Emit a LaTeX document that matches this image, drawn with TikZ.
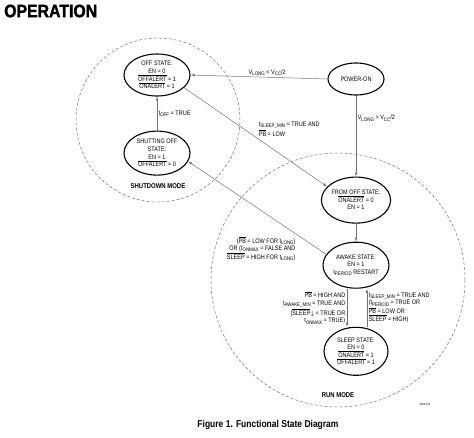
\documentclass[tikz,border=0pt]{standalone}
\usepackage{fontspec}
\setmainfont{Liberation Sans}[FakeStretch=0.85]
\newfontfamily\headfont{Liberation Sans}[FakeStretch=0.88, BoldFeatures={FakeBold=1.5}]
\usetikzlibrary{positioning,arrows.meta,shapes.geometric}
\definecolor{linegray}{gray}{0.45}
\newcommand{\ovl}[1]{$\overline{\mbox{#1}}$}
\newcommand{\sbs}[1]{\raisebox{-0.35ex}{\fontsize{5.2}{5}\selectfont #1}}

\begin{document}
\begin{tikzpicture}[
  x=1pt, y=-1pt,
  font=\fontsize{6.5}{7.6}\selectfont,
  >={Latex[length=4pt,width=2.6pt]},
  state/.style={draw, ellipse, line width=1.1pt, inner sep=0pt, align=center},
  mode/.style={draw=linegray, circle, dash pattern=on 3pt off 2pt, line width=0.5pt, inner sep=0pt},
  wire/.style={draw=linegray, line width=0.5pt, ->},
  lbl/.style={inner sep=1.5pt, align=left},
  modelbl/.style={font=\fontsize{7}{8}\selectfont\bfseries},
]
  \useasboundingbox (0,0) rectangle (474,437);

  \node[font=\headfont\fontsize{18}{18}\selectfont\bfseries, anchor=west, inner sep=0pt] (title) at (4,11) {OPERATION};

  \node[mode, minimum size=164pt] (shutdown) at (158,120) {};
  \node[mode, minimum size=254pt] (run) at (338,280) {};

  \node[state, minimum width=66pt, minimum height=42pt] (off) at (157,75) {OFF STATE:\\EN = 0\\\ovl{OFFALERT} = 1\\\ovl{ONALERT} = 1};
  \node[state, minimum width=66pt, minimum height=44pt, below=34pt of off] (shut) {SHUTTING OFF\\STATE:\\EN = 1\\\ovl{OFFALERT} = 0};
  \node[state, minimum width=56pt, minimum height=32pt] (power) at (356,79) {POWER-ON};
  \node[state, minimum width=68pt, minimum height=46pt, below=81pt of power] (fromoff) {FROM OFF STATE:\\\ovl{ONALERT} = 0\\EN = 1};
  \node[state, minimum width=66pt, minimum height=46pt, below=18pt of fromoff] (awake) {AWAKE STATE:\\EN = 1\\t\sbs{PERIOD} RESTART};
  \node[state, minimum width=64pt, minimum height=48pt, below=38pt of awake] (sleep) {SLEEP STATE:\\EN = 0\\\ovl{ONALERT} = 1\\\ovl{OFFALERT} = 1};

  \draw[wire] (power.west) -- node[lbl, above, pos=.44] {V\sbs{LONG} < V\sbs{CC}/2} (off.east);
  \draw[wire] (power) -- node[lbl, right, pos=.28] {V\sbs{LONG} > V\sbs{CC}/2} (fromoff);
  \draw[wire] (off.-25) -- node[lbl, anchor=south west, pos=.51] {t\sbs{SLEEP\_MIN} = TRUE AND\\\ovl{PB} = LOW} (fromoff.155);
  \draw[wire] (shut) -- node[lbl, right, pos=.5] {t\sbs{OFF} = TRUE} (off);
  \draw[wire] (fromoff) -- (awake);
  \draw[wire] (awake.160) -- node[lbl, anchor=north east, align=right, pos=.21] {(\ovl{PB} = LOW FOR t\sbs{LONG})\\OR (t\sbs{ONMAX} = FALSE AND\\\ovl{SLEEP} = HIGH FOR t\sbs{LONG})} (shut.-15);
  \draw[wire] ([xshift=-9pt]awake.south) -- node[lbl, left, align=right] {\ovl{PB} = HIGH AND\\t\sbs{AWAKE\_MIN} = TRUE AND\\(\ovl{SLEEP}$\downarrow$ = TRUE OR\\t\sbs{ONMAX} = TRUE)} ([xshift=-9pt]sleep.north);
  \draw[wire] ([xshift=11pt]sleep.north) -- node[lbl, right] {t\sbs{SLEEP\_MIN} = TRUE AND\\(t\sbs{PERIOD} = TRUE OR\\\ovl{PB} = LOW OR\\\ovl{SLEEP} = HIGH)} ([xshift=11pt]awake.south);

  \node[modelbl, above=10pt of shutdown.south] (shutlbl) {SHUTDOWN MODE};
  \node[modelbl, above=6pt of run.south] (runlbl) {RUN MODE};
  \node[font=\fontsize{3}{3}\selectfont] (figid) at (425,404) {2966 F01};
  \node[font=\fontsize{10}{12}\selectfont\bfseries] (caption) at (268,425) {Figure 1. Functional State Diagram};
\end{tikzpicture}
\end{document}
